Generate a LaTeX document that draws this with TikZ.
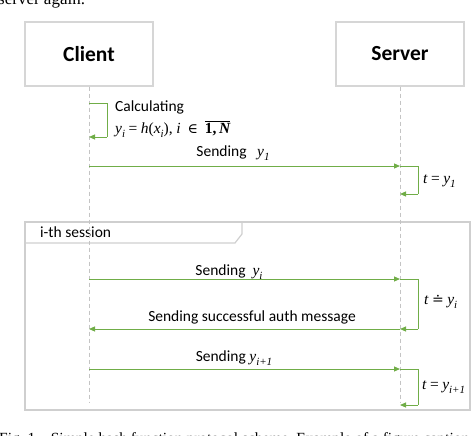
\documentclass[tikz,border=0pt]{standalone}
\usepackage{fontspec}
\setmainfont{Carlito}
\newfontfamily\capserif{Liberation Serif}
\newfontfamily\mathserif{DejaVu Serif}
\usetikzlibrary{arrows.meta}
\definecolor{msgreen}{HTML}{70AD47}
\definecolor{boxgray}{HTML}{D6D6D6}
\definecolor{lifegray}{HTML}{C4C4C4}
\definecolor{framegray}{HTML}{CFCFCF}
\newcommand\mvar[1]{{\capserif\itshape #1}}
\newcommand\msub[1]{\raisebox{-0.28em}{\capserif\itshape\fontsize{11}{11}\selectfont #1}}
\newcommand\mrm[1]{{\capserif #1}}
\tikzset{
  actorbox/.style={draw=boxgray, line width=1.1pt, minimum width=128pt, minimum height=64pt, inner sep=0pt,
     font=\fontsize{21.5}{24}\selectfont\bfseries},
  lifeline/.style={draw=lifegray, line width=0.9pt, dash pattern=on 4pt off 3pt},
  msg/.style={draw=msgreen, line width=1pt, -{Triangle[length=6pt,width=5pt]}},
  loopline/.style={draw=msgreen, line width=1pt},
  lbl/.style={inner sep=0pt, font=\fontsize{15.5}{18}\selectfont},
  framebox/.style={draw=framegray, line width=1.2pt},
}
\begin{document}
\begin{tikzpicture}[x=1pt,y=-1pt]
\useasboundingbox (0,0) rectangle (474,436);
\begin{scope}
\clip (0,0) rectangle (474,436);
\node[anchor=base west, inner sep=0pt, font=\capserif\fontsize{17}{20}\selectfont] (toptext) at (-2,5) {server again.};
\node[anchor=base west, inner sep=0pt, font=\capserif\fontsize{15.5}{18}\selectfont] (caption) at (-1,443) {Fig.~1.\ \ \ Simple hash function protocol scheme\ \ Example of a figure caption};
\end{scope}

% actors
\node[actorbox] (client) at (89,54) {Client};
\node[actorbox] (server) at (400,54) {Server};

% frame
\draw[framebox] (25,222) rectangle (470,410);
\draw[framebox] (25,243) -- (235,243) -- (242,234) -- (242,222);
\node[lbl, anchor=west] (session) at (40,232.5) {i-th session};

% lifelines
\coordinate (cend) at (89,403);
\coordinate (send) at (400,403);
\draw[lifeline] (client.south) -- (cend);
\draw[lifeline] (server.south) -- (send);

% client self-loop
\coordinate (c0) at (89,103);
\coordinate (c1) at (89,137);
\draw[loopline] (c0) -- (107,103) -- (107,137);
\draw[msg] (107,137) -- (c1);
\node[lbl, anchor=base west] (calc) at (115,111) {Calculating};
\node[lbl, anchor=base west] (formula) at (115,133)
  {\mvar{y}\msub{i} \mrm{=} \mvar{h}\mrm{(}\mvar{x}\msub{i}\mrm{),} \mvar{i}\ \ {\mathserif\fontsize{14}{14}\selectfont ∈}\ \ $\overline{\hbox{\capserif\bfseries 1,\,\itshape N}}$};

% message 1
\coordinate (m1c) at (89,166);
\coordinate (m1s) at (400,166);
\coordinate (m1r) at (400,194);
\node[lbl] (send1) at (233,153) {Sending\ \ \ \mvar{y}\msub{1}};
\draw[msg] (m1c) -- (m1s);
\draw[loopline] (m1s) -- (418,166) -- (418,194);
\draw[msg] (418,194) -- (m1r);
\node[lbl, anchor=west] (t1) at (423,181) {\mvar{t}\ \mrm{=}\ \mvar{y}\msub{1}};

% message 2
\coordinate (m2c) at (89,279);
\coordinate (m2s) at (400,279);
\coordinate (m2r) at (400,329);
\coordinate (m3c) at (89,329);
\node[lbl] (send2) at (229,272) {Sending\ \ \mvar{y}\msub{i}};
\draw[msg] (m2c) -- (m2s);
\draw[loopline] (m2s) -- (418,279) -- (418,329);
\draw[msg] (418,329) -- (m2r);
\node[lbl, anchor=west] (t2) at (424,302) {\mvar{t}\ {\mathserif\fontsize{14}{14}\selectfont ≐}\ \mvar{y}\msub{i}};
\node[lbl] (auth) at (252,317) {Sending successful auth message};
\draw[msg] (m2r) -- (m3c);

% message 3
\coordinate (m4c) at (89,369);
\coordinate (m4s) at (400,369);
\coordinate (m4r) at (400,405);
\node[lbl] (send3) at (234,358) {Sending \mvar{y}\msub{i+1}};
\draw[msg] (m4c) -- (m4s);
\draw[loopline] (m4s) -- (418,369) -- (418,405);
\draw[msg] (418,405) -- (m4r);
\node[lbl, anchor=west] (t3) at (422,387) {\mvar{t}\ \mrm{=}\ \mvar{y}\msub{i+1}};
\end{tikzpicture}
\end{document}
